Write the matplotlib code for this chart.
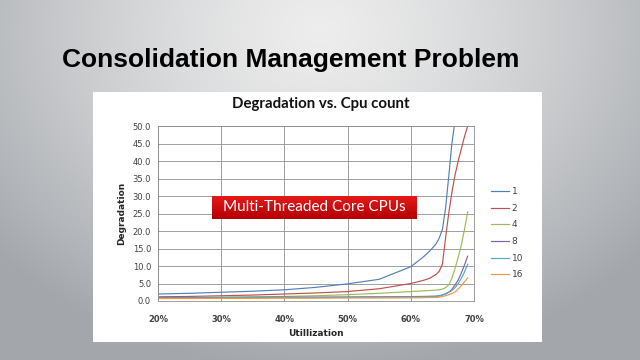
import numpy as np
import matplotlib
matplotlib.use('Agg')
import matplotlib.pyplot as plt
from matplotlib.patches import Rectangle
from matplotlib.lines import Line2D

# utilization (%) and degradation per cpu count
util = [20, 25, 30, 35, 40, 45, 50, 55, 60, 62, 63, 64, 64.5, 65, 65.5, 66, 66.5, 67, 67.5, 68, 68.5, 69]
cpu_counts = ['1', '2', '4', '8', '10', '16']
deg_1 = [2.0, 2.2, 2.5, 2.8, 3.2, 3.9, 4.9, 6.2, 9.8, 12.6, 14.3, 16.3, 18.0, 20.5, 26.5, 35.5, 45.0, 51.5, 60, 70, 80, 90]
deg_2 = [1.2, 1.3, 1.5, 1.7, 2.0, 2.3, 2.7, 3.5, 5.0, 5.9, 6.5, 7.6, 8.5, 10.5, 18.0, 25.0, 31.0, 36.0, 40.0, 43.5, 47.0, 50.0]
deg_4 = [0.9, 1.0, 1.1, 1.2, 1.3, 1.5, 1.8, 2.2, 2.7, 2.9, 3.0, 3.1, 3.2, 3.4, 3.8, 4.6, 6.5, 9.3, 12.5, 16.0, 20.5, 25.5]
deg_8 = [1.0, 1.0, 1.0, 1.05, 1.1, 1.1, 1.15, 1.2, 1.25, 1.3, 1.35, 1.4, 1.5, 1.7, 2.0, 2.5, 3.3, 4.6, 6.0, 8.0, 10.3, 12.8]
deg_10 = [0.9, 0.9, 0.9, 0.95, 1.0, 1.0, 1.05, 1.1, 1.15, 1.2, 1.25, 1.3, 1.45, 1.7, 2.1, 2.5, 3.0, 3.8, 5.0, 6.5, 8.3, 10.5]
deg_16 = [0.7, 0.7, 0.75, 0.75, 0.8, 0.8, 0.85, 0.85, 0.9, 0.95, 1.0, 1.0, 1.1, 1.3, 1.5, 1.8, 2.1, 2.6, 3.4, 4.4, 5.5, 6.6]
series = [deg_1, deg_2, deg_4, deg_8, deg_10, deg_16]
colors = ['#4F81BD', '#C0504D', '#9BBB59', '#8064A2', '#4BACC6', '#F79646']

W, H = 640, 360
fig = plt.figure(figsize=(6.4, 3.6), dpi=100)

# slide background (radial grey gradient)
bg = fig.add_axes([0, 0, 1, 1])
bg.axis('off')
yy, xx = np.mgrid[0:H, 0:W]
r = np.clip(np.sqrt(((xx - 320) / 430) ** 2 + ((yy - 30) / 340) ** 2), 0, 1)
light = np.array([0.93, 0.93, 0.93])
dark = np.array([0.64, 0.655, 0.675])
img = light + (dark - light) * (r[..., None] ** 1.3)
bg.imshow(img, extent=[0, 1, 0, 1], aspect='auto')
bg.set_xlim(0, 1)
bg.set_ylim(0, 1)

# white chart panel
bg.add_patch(Rectangle((93 / W, 1 - 342 / H), 449 / W, 250 / H, facecolor='white', edgecolor='none'))
# shadow of the red label
bg.add_patch(Rectangle((214 / W, 1 - 222 / H), 206 / W, 23 / H, facecolor='#707070', alpha=0.5, edgecolor='none'))

fig.text(62 / W, 1 - 60 / H, 'Consolidation Management Problem', fontsize=19, fontweight='bold',
         va='center', ha='left', family='Liberation Sans', color='black')

ax = fig.add_axes([158 / W, 1 - 301 / H, 316 / W, 175 / H])
for name, vals, c in zip(cpu_counts, series, colors):
    ax.plot(util, vals, color=c, lw=0.85, label=name)
ax.set_xlim(20, 70)
ax.set_ylim(0, 50)
ax.set_xticks(range(20, 71, 10))
ax.set_xticklabels([f'{v}%' for v in range(20, 71, 10)], fontweight='bold')
ax.set_yticks(np.arange(0, 51, 5))
ax.set_yticklabels([f'{v:.1f}' for v in np.arange(0, 51, 5)])
ax.grid(True, color='#8f8f8f', lw=0.6)
ax.set_axisbelow(True)
for s in ax.spines.values():
    s.set_color('#8f8f8f')
    s.set_linewidth(0.6)
ax.tick_params(axis='both', length=0, labelsize=6, colors='#404040')
ax.tick_params(axis='x', pad=10)
ax.tick_params(axis='y', pad=5)

fig.text(321 / W, 1 - 104 / H, 'Degradation vs. Cpu count', ha='center', va='center',
         fontsize=10.8, fontweight='bold', family='Lato', color='#111111')
fig.text(122 / W, 1 - 213 / H, 'Degradation', ha='center', va='center', rotation=90,
         fontsize=6.5, fontweight='bold', color='#262626')
fig.text(316 / W, 1 - 334 / H, 'Utillization', ha='center', va='center',
         fontsize=6.5, fontweight='bold', color='#262626')

handles = [Line2D([], [], color=c, lw=0.85) for c in colors]
fig.legend(handles, cpu_counts, loc='upper left', bbox_to_anchor=(491 / W, 1 - 187 / H),
           frameon=False, fontsize=6.5, handlelength=2.0, handletextpad=0.3,
           labelspacing=0.85, borderaxespad=0, borderpad=0, labelcolor='#404040')

# red call-out box
bx = fig.add_axes([212 / W, 1 - 219 / H, 205 / W, 23 / H])
bx.axis('off')
g = np.linspace(0, 1, 40)[:, None]
top = np.array([0.90, 0.10, 0.10])
bot = np.array([0.70, 0.0, 0.02])
red = top + (bot - top) * g[..., None]
bx.imshow(np.repeat(red, 10, axis=1), extent=[0, 1, 0, 1], aspect='auto')
bx.set_xlim(0, 1)
bx.set_ylim(0, 1)
bx.text(0.5, 0.5, 'Multi-Threaded Core CPUs', color='white', fontsize=11, family='Lato',
        ha='center', va='center')

fig.savefig('out.png', dpi=100)
